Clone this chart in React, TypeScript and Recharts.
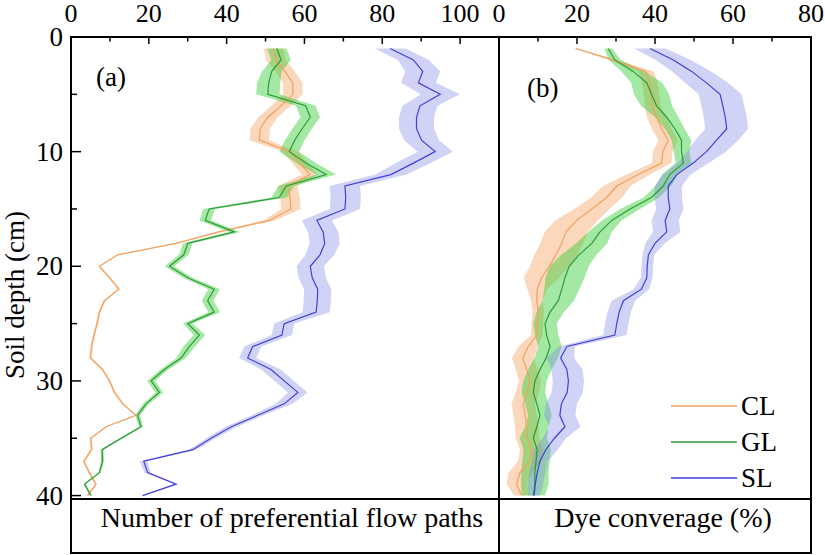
import React from "react";
import { ComposedChart, Line, Area, XAxis, YAxis, Legend } from "recharts";

// soil depth (cm), one reading per cm
const depths = [
  1, 2, 3, 4, 5, 6, 7, 8, 9, 10, 11, 12, 13, 14, 15, 16, 17, 18, 19, 20,
  21, 22, 23, 24, 25, 26, 27, 28, 29, 30, 31, 32, 33, 34, 35, 36, 37, 38, 39, 40,
];

// (a) number of preferential flow paths
const flowCL = [
  52, 52.7, 55, 57, 57, 54, 50.6, 48.6, 48.4, 56.4, 58.8, 61.4, 55.7, 56.3, 56.5, 51, 38, 27, 12, 7.3,
  9.9, 12.3, 8.6, 7.3, 6.7, 5.9, 5.3, 5, 8.1, 9.9, 11.2, 13.3, 16.7, 9, 5.1, 5.3, 3.3, 4.7, 6.4, 4.3,
];
const flowCLsd = [
  2.5, 2.5, 2.5, 2.5, 2.5, 2.5, 2.5, 2.5, 2.5, 2, 2, 2, 2.5, 2.5, 2.5, 1.5, 0.8, 0.3, 0.3, 0.3,
  0.3, 0.3, 0.3, 0.3, 0.3, 0.3, 0.3, 0.3, 0.3, 0.3, 0.3, 0.3, 0.3, 0.3, 0.3, 0.3, 0.3, 0.3, 0.3, 0.3,
];
const flowGL = [
  52.9, 54, 51.6, 50.8, 50.6, 60.3, 61.5, 59.4, 57.5, 56.1, 60.4, 65.6, 55.3, 53.5, 35.5, 34.5, 42, 30, 29, 25.3,
  30, 36.8, 35.1, 36.8, 30, 33, 30.4, 28.3, 24, 20.6, 22.7, 19.3, 17.1, 18, 12.9, 8, 8.1, 7.3, 3.5, 5.1,
];
const flowGLsd = [
  2.5, 2.5, 2.5, 3, 3, 2.5, 2.5, 2.5, 2.5, 2.5, 2.5, 2.5, 2, 2, 1.5, 1.5, 1.5, 1.2, 1.2, 1.2,
  1.2, 1.5, 1.5, 1.5, 1.2, 1.5, 1.5, 1.2, 1, 1, 1, 0.8, 0.6, 0.5, 0.5, 0.4, 0.4, 0.3, 0.3, 0.3,
];
const flowSL = [
  82, 88, 90.4, 89.3, 94.9, 89.7, 88.8, 88.8, 90.1, 93.6, 88, 82.2, 70.4, 70.6, 70.4, 63.2, 64.8, 65.2, 64, 61.5,
  62, 63.4, 63.3, 63, 54.8, 54.2, 46.7, 45.4, 51.4, 54.8, 58.3, 54.8, 48, 41.2, 36, 31.3, 18.7, 19.7, 27, 18.4,
];
const flowSLsd = [
  4, 4, 4.5, 4.5, 5, 4.5, 4.5, 4.5, 4.5, 4.5, 4.5, 4, 3.9, 3.9, 3.9, 3.9, 3.9, 3.9, 3.7, 3.5,
  3.5, 3.5, 3.5, 3.5, 2.6, 2.6, 2.2, 2.2, 2.5, 2.5, 2.5, 2.2, 1.5, 1.5, 1.2, 1, 1, 0.8, 0.4, 0.2,
];

// (b) dye coverage (%)
const dyeCL = [
  19.7, 29.2, 37.7, 38.7, 39.1, 39.4, 40.4, 41.7, 43.4, 42, 41.7, 35.7, 30.2, 27.6, 23.8, 19.9, 17.2, 16.1, 14.6, 12.9,
  10.9, 9.8, 9.7, 10.1, 9.8, 9.7, 7.5, 6.1, 7.1, 7.9, 7.3, 6.2, 6.7, 7.1, 7.3, 8.4, 7.9, 5.4, 4.5, 5.8,
];
const dyeCLsd = [
  0.5, 1, 2, 2, 2, 2, 2.5, 2.5, 2.5, 2.5, 2.5, 3, 3.5, 4, 4.5, 5.5, 5.5, 5.5, 5.5, 5,
  4.5, 2.5, 1.5, 1.5, 1.5, 1.5, 2.5, 2.8, 2.8, 2.8, 3, 3, 3, 3, 3, 3, 3, 3, 2.5, 2,
];
const dyeGL = [
  28, 29.7, 34.4, 37.9, 39.1, 40.4, 43, 45.1, 46.8, 46.8, 47.3, 43.8, 42.1, 39.1, 33.6, 28.9, 25.9, 23.8, 20.5, 18,
  16.9, 16.1, 15.2, 13.1, 11.8, 12.2, 13.1, 12.1, 10.5, 9.2, 8.8, 9.7, 10.5, 9.7, 8.8, 9.8, 9.5, 9.2, 9.2, 8.8,
];
const dyeGLsd = [
  1, 1.5, 3, 4, 4.5, 4, 3, 2.5, 2.5, 2, 2, 2, 2, 2, 2.5, 2.5, 3, 4, 4.5, 5,
  5, 4.5, 4, 3.5, 3, 3, 3, 3, 3, 3, 3, 3, 3, 3, 3.5, 3.5, 3.5, 3.5, 3.5, 3,
];
const dyeSL = [
  38.7, 44.7, 49.4, 53.2, 56.7, 57.4, 58, 58.4, 55.8, 53.2, 49.8, 45.6, 43.4, 43.4, 43.8, 42.6, 43, 40, 38.3, 38,
  37.9, 36.5, 31.9, 30.8, 30.2, 29.7, 17.4, 15.8, 17.4, 17.8, 17.5, 16, 15.6, 16.9, 14.2, 12, 10.5, 9.8, 9.3, 9,
];
const dyeSLsd = [
  4, 4.5, 5, 5.5, 5.5, 5.5, 5.5, 5.5, 5.5, 5, 4, 3.5, 3.5, 3.5, 3.5, 3.5, 3.5, 2.5, 1.5, 1.5,
  1.5, 2, 3, 3, 3, 3, 2, 3.5, 4, 4, 4, 4, 4, 4, 3, 3, 2, 2, 2, 1.5,
];

const flowTicks = [0, 10, 20, 30, 40, 50, 60, 70, 80, 90, 100];
const dyeTicks = [0, 10, 20, 30, 40, 50, 60, 70, 80];
const depthTicks = [0, 5, 10, 15, 20, 25, 30, 35, 40];

const FONT = "'Liberation Serif', 'Times New Roman', serif";
const series = [
  { key: "CL", line: "#f5a05e", band: "#f59a55", op: 0.4 },
  { key: "GL", line: "#2e9a3a", band: "#33cc33", op: 0.45 },
  { key: "SL", line: "#3f3fdd", band: "#7a80e6", op: 0.35 },
];

function buildRows(cl: number[], clSd: number[], gl: number[], glSd: number[], sl: number[], slSd: number[]) {
  return depths.map((depth, i) => ({
    depth,
    CL: cl[i],
    GL: gl[i],
    SL: sl[i],
    CLband: [cl[i] - clSd[i], cl[i] + clSd[i]],
    GLband: [gl[i] - glSd[i], gl[i] + glSd[i]],
    SLband: [sl[i] - slSd[i], sl[i] + slSd[i]],
  }));
}

const flowRows = buildRows(flowCL, flowCLsd, flowGL, flowGLsd, flowSL, flowSLsd);
const dyeRows = buildRows(dyeCL, dyeCLsd, dyeGL, dyeGLsd, dyeSL, dyeSLsd);

// ticks point into the plot; labels only on every other tick
function TopTick(props: any) {
  const { x, y, payload } = props;
  const v = payload.value;
  const major = v % 20 === 0;
  return (
    <g>
      <line x1={x} x2={x} y1={y} y2={y + (major ? 7 : 4.5)} stroke="#000" strokeWidth={1.5} />
      {major && (
        <text x={x} y={y - 15} textAnchor="middle" fontFamily={FONT} fontSize={26} fill="#000">
          {v}
        </text>
      )}
    </g>
  );
}

function LeftTick(props: any) {
  const { x, y, payload } = props;
  const v = payload.value;
  const major = v % 10 === 0;
  return (
    <g>
      <line x1={x} x2={x + (major ? 10 : 6)} y1={y} y2={y} stroke="#000" strokeWidth={1.5} />
      {major && (
        <text x={x - 8} y={y + 9} textAnchor="end" fontFamily={FONT} fontSize={27} fill="#000">
          {v}
        </text>
      )}
    </g>
  );
}

function LegendBox(props: any) {
  const items = (props.payload || []).filter((p: any) => p.type !== "none");
  return (
    <div style={{ fontFamily: FONT, fontSize: 27, color: "#000" }}>
      {items.map((p: any) => (
        <div key={p.value} style={{ display: "flex", alignItems: "center", height: 36 }}>
          <svg width={66} height={4} style={{ marginRight: 4 }}>
            <line x1={0} x2={66} y1={2} y2={2} stroke={p.color} strokeWidth={1.5} />
          </svg>
          <span>{p.value}</span>
        </div>
      ))}
    </div>
  );
}

function seriesLayers() {
  return [
    ...series.map((s) => (
      <Area
        key={s.key + "band"}
        dataKey={s.key + "band"}
        stroke="none"
        fill={s.band}
        fillOpacity={s.op}
        legendType="none"
        isAnimationActive={false}
      />
    )),
    ...series.map((s) => (
      <Line
        key={s.key}
        dataKey={s.key}
        name={s.key}
        stroke={s.line}
        strokeWidth={1.2}
        dot={false}
        activeDot={false}
        isAnimationActive={false}
      />
    )),
  ];
}

export default function App() {
  return (
    <div style={{ position: "absolute", left: 0, top: 0, width: 825, height: 555, background: "#fff" }}>
      <div style={{ position: "absolute", left: 0, top: 0 }}>
        <ComposedChart
          layout="vertical"
          width={510}
          height={510}
          data={flowRows}
          margin={{ top: 0, right: 11, bottom: 11, left: 0 }}
        >
          <XAxis
            type="number"
            orientation="top"
            domain={[0, 110]}
            ticks={flowTicks}
            interval={0}
            height={37}
            axisLine={false}
            tickLine={false}
            tickSize={0}
            tickMargin={0}
            tick={<TopTick />}
            allowDataOverflow
          />
          <YAxis
            type="number"
            dataKey="depth"
            domain={[0, 40.3]}
            ticks={depthTicks}
            interval={0}
            width={71}
            axisLine={false}
            tickLine={false}
            tickSize={0}
            tickMargin={0}
            tick={<LeftTick />}
            allowDataOverflow
          />
          {seriesLayers()}
        </ComposedChart>
      </div>
      <div style={{ position: "absolute", left: 460, top: 0 }}>
        <ComposedChart
          layout="vertical"
          width={365}
          height={510}
          data={dyeRows}
          margin={{ top: 0, right: 14, bottom: 11, left: 39 }}
        >
          <XAxis
            type="number"
            orientation="top"
            domain={[0, 80]}
            ticks={dyeTicks}
            interval={0}
            height={37}
            axisLine={false}
            tickLine={false}
            tickSize={0}
            tickMargin={0}
            tick={<TopTick />}
            allowDataOverflow
          />
          <YAxis type="number" dataKey="depth" domain={[0, 40.3]} hide allowDataOverflow />
          {seriesLayers()}
          <Legend
            layout="vertical"
            align="center"
            verticalAlign="middle"
            content={<LegendBox />}
            wrapperStyle={{ left: 211, top: 388, width: 120, height: 108 }}
          />
        </ComposedChart>
      </div>
      <svg
        width={825}
        height={555}
        style={{ position: "absolute", left: 0, top: 0, pointerEvents: "none" }}
        fontFamily={FONT}
        fill="#000"
      >
        <rect x={71} y={37} width={740} height={516} fill="none" stroke="#000" strokeWidth={2} />
        <line x1={499} x2={499} y1={37} y2={553} stroke="#000" strokeWidth={2} />
        <line x1={71} x2={811} y1={499} y2={499} stroke="#000" strokeWidth={2} />
        <text x={96} y={86} fontSize={27}>(a)</text>
        <text x={527} y={97} fontSize={27}>(b)</text>
        <text x={292} y={527} fontSize={28} textAnchor="middle">Number of preferential flow paths</text>
        <text x={663} y={527} fontSize={28} textAnchor="middle">Dye converage (%)</text>
        <text transform="rotate(-90)" x={-295} y={24} fontSize={27} textAnchor="middle">Soil depth (cm)</text>
      </svg>
    </div>
  );
}
